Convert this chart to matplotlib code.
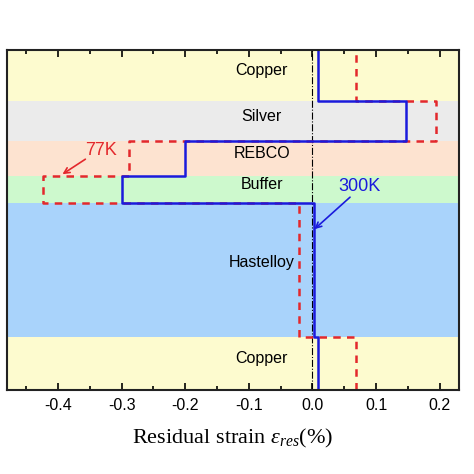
import numpy as np
import matplotlib.pyplot as plt
from matplotlib.ticker import MultipleLocator

plt.rcParams['mathtext.fontset'] = 'custom'
plt.rcParams['mathtext.it'] = 'Liberation Serif:italic'
plt.rcParams['mathtext.rm'] = 'Liberation Serif'

# layers from bottom to top, thickness in arbitrary units
layers = ['Copper', 'Hastelloy', 'Buffer', 'REBCO', 'Silver', 'Copper']
thickness = [53, 134, 27, 35, 40, 51]
colors = ['#fdfbcf', '#a9d3fb', '#cdf9cd', '#fde3d0', '#ebebeb', '#fdfbcf']

# residual strain per layer (%)
strain_300K = [0.008, 0.002, -0.30, -0.20, 0.147, 0.008]
strain_77K = [0.068, -0.021, -0.423, -0.289, 0.194, 0.068]

bounds = np.concatenate([[0], np.cumsum(thickness)])


def step_xy(vals):
    xs, ys = [], []
    for i, v in enumerate(vals):
        xs += [v, v]
        ys += [bounds[i], bounds[i + 1]]
    return xs, ys


fig, ax = plt.subplots(figsize=(4.74, 4.74), dpi=100)
fig.subplots_adjust(left=0.015, right=0.968, top=0.894, bottom=0.177)

for i, name in enumerate(layers):
    ax.axhspan(bounds[i], bounds[i + 1], color=colors[i], lw=0, zorder=0)
    yc = (bounds[i] + bounds[i + 1]) / 2 + 5
    if name == 'Hastelloy':
        yc += 3
    ax.text(-0.08, yc, name, ha='center', va='center',
            fontsize=11.5, family='Liberation Sans', zorder=3)

ax.axvline(0, color='k', lw=0.8, ls='-.', zorder=1)

x, y = step_xy(strain_77K)
ax.plot(x, y, color='#e3282c', ls=(0, (3, 2.5)), lw=1.8, zorder=2)
x, y = step_xy(strain_300K)
ax.plot(x, y, color='#1a1adc', lw=1.8, zorder=2)

# annotations
ax.text(-0.333, 240, '77K', color='#e3282c', fontsize=13,
        family='Liberation Sans', ha='center', va='center')
ax.annotate('', xy=(-0.393, 216), xytext=(-0.357, 231),
            arrowprops=dict(arrowstyle='->', color='#e3282c', lw=1.2, shrinkA=0, shrinkB=0))
ax.text(0.074, 204, '300K', color='#1a1adc', fontsize=13,
        family='Liberation Sans', ha='center', va='center')
ax.annotate('', xy=(0.003, 161), xytext=(0.059, 193),
            arrowprops=dict(arrowstyle='->', color='#1a1adc', lw=1.2, shrinkA=0, shrinkB=0))

ax.set_xlim(-0.48, 0.23)
ax.set_ylim(0, bounds[-1])
ax.xaxis.set_major_locator(MultipleLocator(0.1))
ax.xaxis.set_minor_locator(MultipleLocator(0.05))
ax.tick_params(axis='x', which='both', direction='in', top=True, labelsize=11.5, pad=6)
ax.tick_params(axis='x', which='major', length=5, width=1.2)
ax.tick_params(axis='x', which='minor', length=3, width=1.2)
ax.set_yticks([])
ax.xaxis.set_major_formatter(plt.FuncFormatter(lambda v, p: f'{v:.1f}'))
for lab in ax.get_xticklabels():
    lab.set_family('Liberation Sans')
for s in ax.spines.values():
    s.set_linewidth(1.5)
    s.set_color('#222222')

ax.set_xlabel(r'Residual strain $\varepsilon_{res}$(%)', fontsize=16,
              family='Liberation Serif', labelpad=10)

plt.savefig('out.png')
